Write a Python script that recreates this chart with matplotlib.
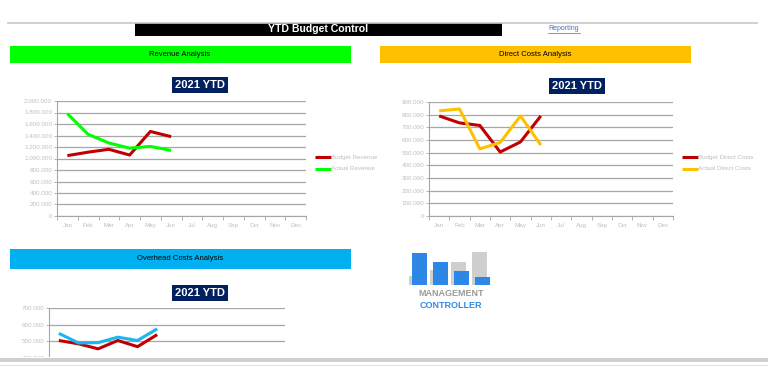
import matplotlib.pyplot as plt
from matplotlib.patches import Rectangle

W, H = 768, 375

MONTHS = ["Jan", "Feb", "Mar", "Apr", "May", "Jun",
          "Jul", "Aug", "Sep", "Oct", "Nov", "Dec"]

rev_budget = [1050000, 1110000, 1160000, 1060000, 1470000, 1380000]
rev_actual = [1780000, 1420000, 1270000, 1180000, 1210000, 1140000]

dc_budget = [790000, 735000, 715000, 505000, 585000, 790000]
dc_actual = [830000, 845000, 530000, 580000, 790000, 560000]

oh_budget = [505000, 485000, 455000, 505000, 468000, 540000]
oh_actual = [548000, 490000, 492000, 525000, 505000, 575000]

# logo bars (decorative): gray backs and blue fronts, heights in px
logo_x = [0, 1, 2, 3]
logo_gray_h = [9, 15, 23, 33]
logo_blue_h = [32, 23, 14, 8]

RED = "#C00000"
plt.rcParams["font.family"] = ["Liberation Sans", "DejaVu Sans"]

fig = plt.figure(figsize=(W / 100, H / 100), dpi=100)

# overlay in pixel coords for the sheet decorations
bg = fig.add_axes([0, 0, 1, 1], zorder=0)
bg.set_xlim(0, W)
bg.set_ylim(H, 0)
bg.axis("off")


def box(ax, x0, y0, x1, y1, color):
    ax.add_patch(Rectangle((x0, y0), x1 - x0, y1 - y0, color=color, lw=0))


bg.plot([8, 757], [23, 23], color="#C8C8C8", lw=1.2)
box(bg, 135, 23, 502, 36, "black")
bg.text(318, 29.5, "YTD Budget Control", color="white", fontsize=7.6,
        fontweight="bold", ha="center", va="center")
bg.text(564, 29, "Reporting", color="#4472C4", fontsize=5, ha="center",
        va="center")
bg.plot([548, 580], [33, 33], color="#4472C4", lw=0.5)

box(bg, 10, 46, 351, 63, "#00FF00")
bg.text(180, 54.5, "Revenue Analysis", fontsize=5.5, ha="center", va="center")
box(bg, 380, 46, 691, 63, "#FFC000")
bg.text(535, 54.5, "Direct Costs Analysis", fontsize=5.5, ha="center", va="center")
box(bg, 10, 249, 351, 269, "#00B0F0")
bg.text(180, 259, "Overhead Costs Analysis", fontsize=5.5, ha="center", va="center")

for cx, cy in [(200, 85), (577, 86), (200, 293)]:
    bg.text(cx, cy, "2021 YTD", color="white", fontsize=8, fontweight="bold",
            ha="center", va="center",
            bbox=dict(boxstyle="square,pad=0.25", fc="#002060", ec="none"))


def pax(x0, y0, x1, y1):
    return fig.add_axes([x0 / W, 1 - y1 / H, (x1 - x0) / W, (y1 - y0) / H],
                        zorder=2)


def line_chart(ax, budget, actual, c_act, ymax, step, ymin=0, show_x=True):
    x = list(range(len(budget)))
    ax.plot(x, budget, color=RED, lw=2.2, solid_capstyle="butt")
    ax.plot(x, actual, color=c_act, lw=2.2, solid_capstyle="butt")
    ax.set_xlim(-0.5, 11.5)
    ax.set_ylim(ymin, ymax)
    ticks = list(range(ymin, ymax + 1, step))
    ax.set_yticks(ticks)
    ax.set_yticklabels([f"{t:,}".replace(",", ".") for t in ticks])
    ax.yaxis.grid(True, color="#A6A6A6", lw=0.9)
    ax.set_axisbelow(True)
    for s in ["top", "right"]:
        ax.spines[s].set_visible(False)
    ax.spines["left"].set_color("#A6A6A6")
    ax.spines["bottom"].set_color("#A6A6A6")
    ax.tick_params(axis="y", labelcolor="#BFBFBF", color="#A6A6A6",
                   labelsize=4.5, length=2, width=0.6, pad=1.5)
    ax.set_xticks([i + 0.5 for i in range(-1, 12)])
    ax.set_xticklabels([])
    ax.tick_params(axis="x", length=3 if show_x else 0, width=0.6,
                   color="#A6A6A6")
    if show_x:
        for i, m in enumerate(MONTHS):
            ax.text(i, -0.06, m, transform=ax.get_xaxis_transform(),
                    ha="center", va="top", fontsize=4.5, color="#BFBFBF")
    ax.patch.set_alpha(0)


ax1 = pax(57, 101, 306, 216)
line_chart(ax1, rev_budget, rev_actual, "#00FF00", 2000000, 200000)
ax2 = pax(429, 102, 673, 216)
line_chart(ax2, dc_budget, dc_actual, "#FFC000", 900000, 100000)
ax3 = pax(49, 308, 285, 358)
line_chart(ax3, oh_budget, oh_actual, "#1EB4F0", 700000, 100000,
           ymin=400000, show_x=False)

# legends drawn as sheet items
for (lx, ly, lbl, col) in [
    (315, 157, "Budget Revenue", RED), (315, 169, "Actual Revenue", "#00FF00"),
    (682, 157, "Budget Direct Costs", RED), (682, 169, "Actual Direct Costs", "#FFC000"),
]:
    bg.plot([lx, lx + 16], [ly, ly], color=col, lw=2.2, solid_capstyle="butt")
    bg.text(lx + 16, ly, lbl, fontsize=4.5, color="#BFBFBF", va="center")

# bottom band covering the cut-off chart
top = fig.add_axes([0, 0, 1, 1], zorder=5)
top.set_xlim(0, W)
top.set_ylim(H, 0)
top.axis("off")
box(top, 0, 357, W, 375, "white")
box(top, 0, 357.5, W, 362, "#CFCFCF")
top.plot([0, W], [364.5, 364.5], color="#E2E2E2", lw=0.8)

# logo
lg = pax(408, 250, 494, 285)
lg.set_xlim(-0.55, 3.55)
lg.set_ylim(0, 35)
lg.axis("off")
lg.bar([g - 0.14 for g in logo_x], logo_gray_h, width=0.72, color="#CFCFCF")
lg.bar(logo_x, logo_blue_h, width=0.72, color="#2E86E6")
bg.text(451, 294, "MANAGEMENT", fontsize=6.5, fontweight="bold",
        color="#9A9A9A", ha="center", va="center")
bg.text(451, 306, "CONTROLLER", fontsize=6.5, fontweight="bold",
        color="#2E8BEA", ha="center", va="center")

fig.savefig("out.png", dpi=100)
